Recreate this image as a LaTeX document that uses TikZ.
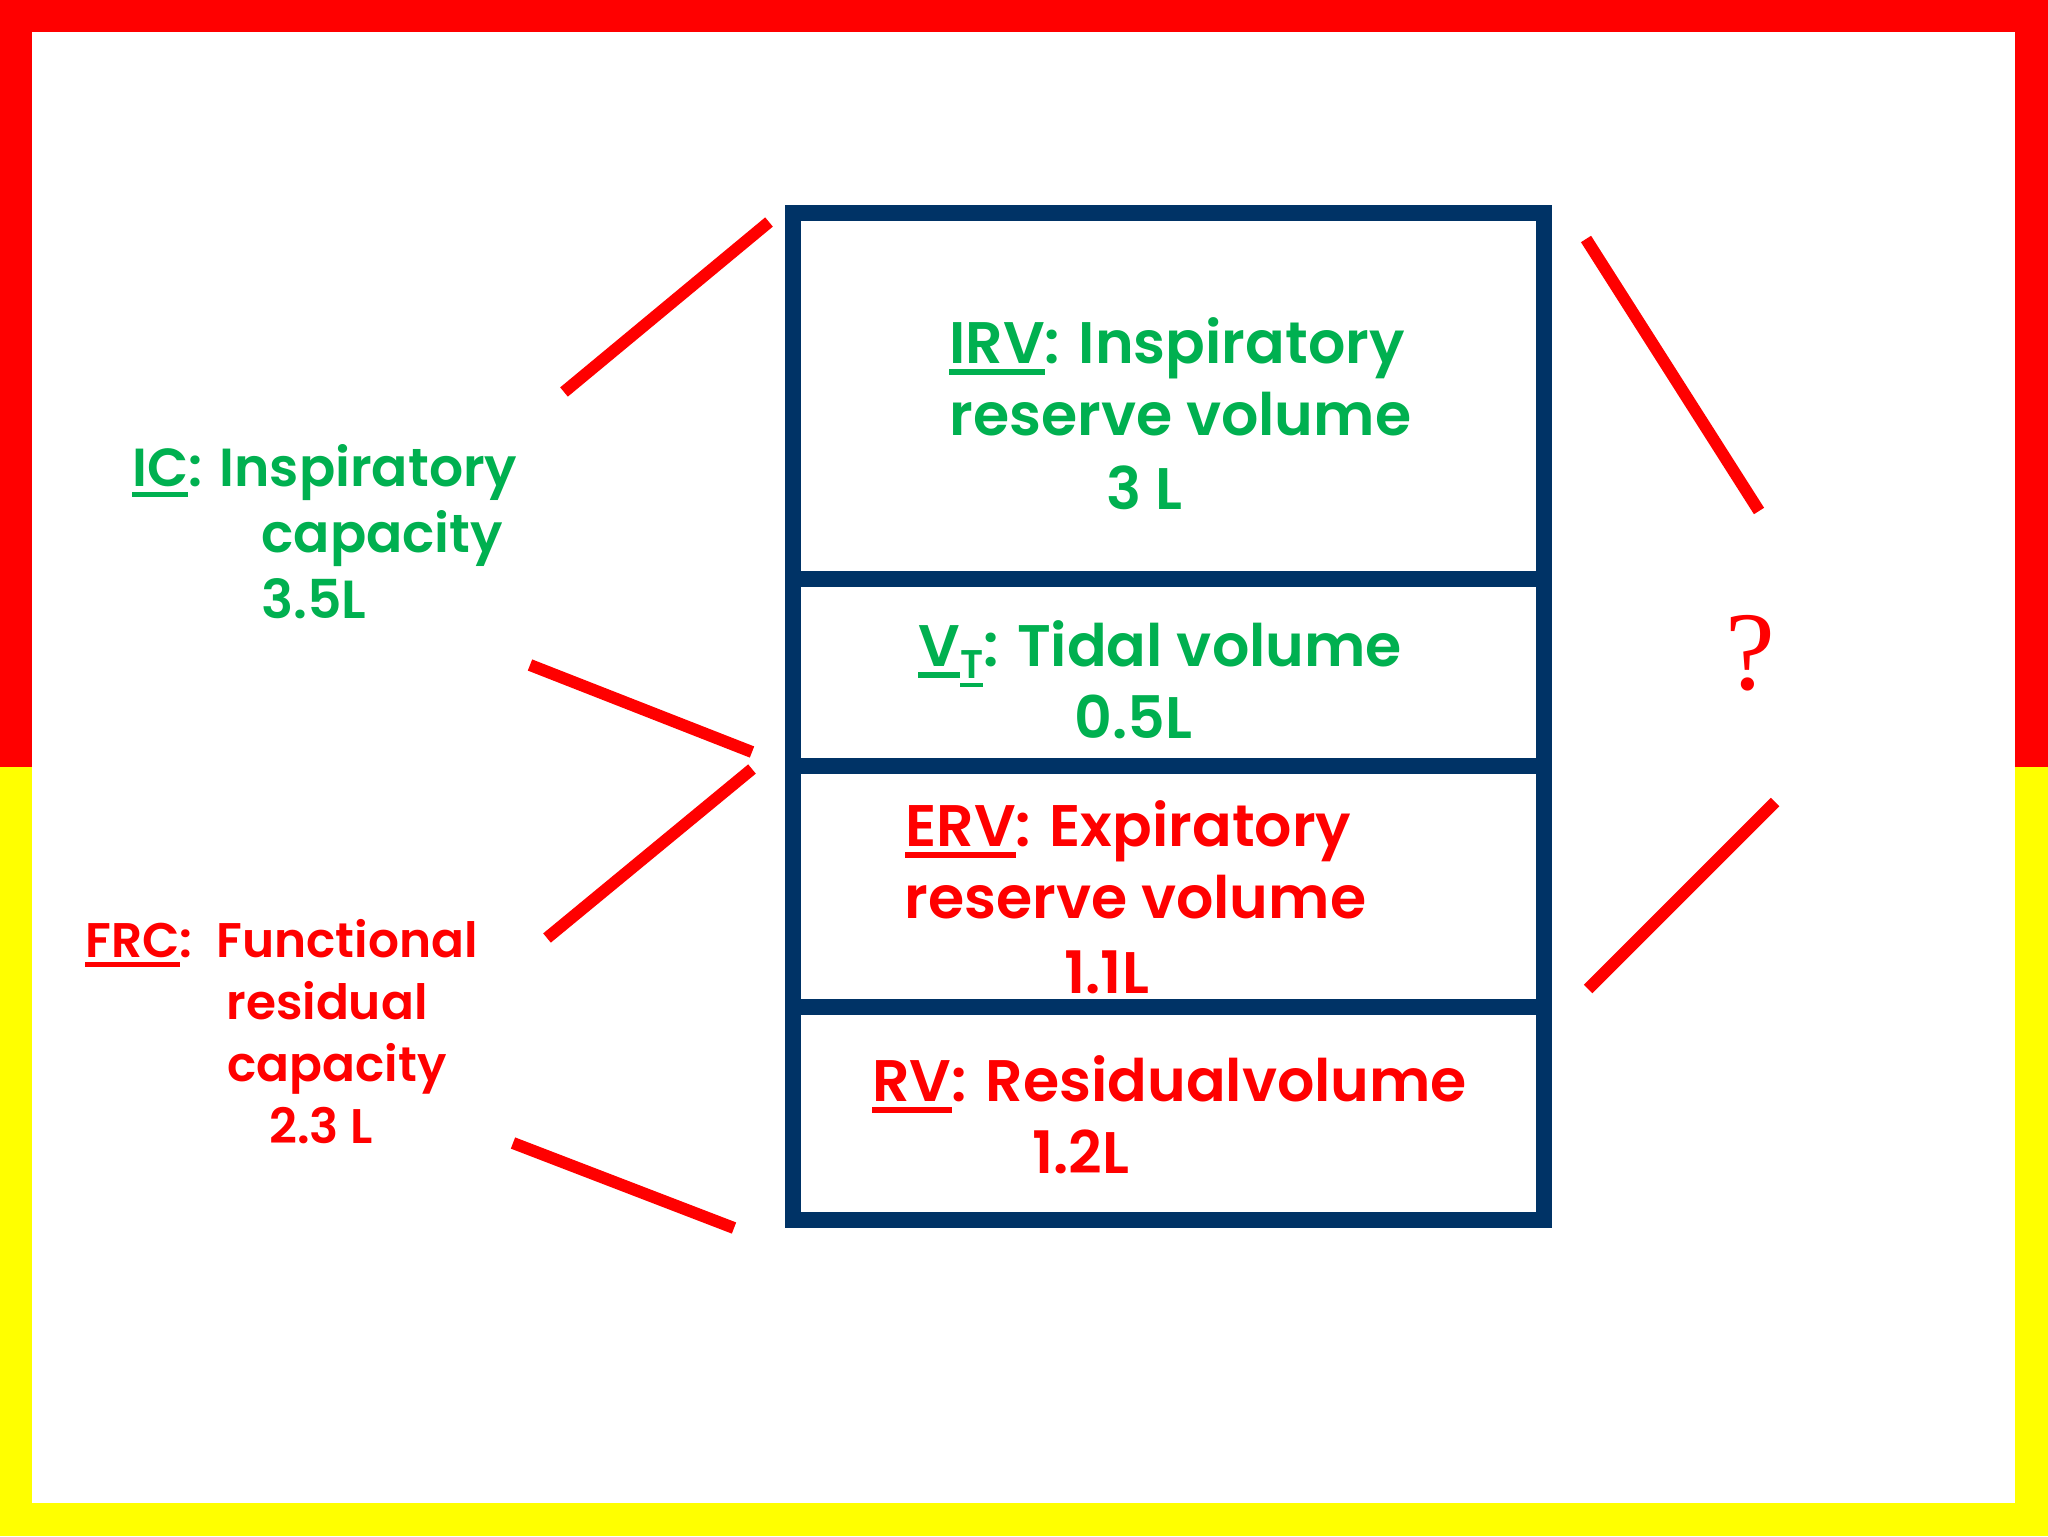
\documentclass[tikz,border=0pt]{standalone}
\usepackage{fontspec}
\setmainfont{Poppins}[BoldFont={Poppins SemiBold}]
\newfontfamily\qfont{Liberation Serif}
\definecolor{pgreen}{RGB}{0,176,80}
\definecolor{pred}{RGB}{255,0,0}
\definecolor{pnavy}{RGB}{0,51,102}
\definecolor{pyellow}{RGB}{255,255,0}
\newcommand\ulx[1]{\setbox0=\hbox{#1}\rlap{\rule[-0.2em]{\wd0}{0.09em}}\box0}
\tikzset{
  txt/.style={anchor=base west,inner sep=0pt,font=\bfseries\fontsize{29.3}{35}\selectfont},
  gtxt/.style={txt,text=pgreen},
  rtxt/.style={txt,text=pred},
  sidegtxt/.style={gtxt,font=\bfseries\fontsize{26.8}{32}\selectfont},
  sidertxt/.style={rtxt,font=\bfseries\fontsize{24.3}{30}\selectfont},
  bracket/.style={draw=pred,line width=6pt,line cap=butt},
  boxline/.style={draw=pnavy,line width=8pt},
}
\begin{document}
\begin{tikzpicture}[x=0.5pt,y=-0.5pt]
\useasboundingbox (0,0) rectangle (2048,1536);
% background frame
\fill[pred] (0,0) rectangle (2048,767);
\fill[pyellow] (0,767) rectangle (2048,1536);
\fill[white] (32,32) rectangle (2015,1503);
% central box
\draw[boxline] (793,213) rectangle (1544,1220);
\coordinate (d1l) at (793,579); \coordinate (d1r) at (1544,579);
\coordinate (d2l) at (793,766); \coordinate (d2r) at (1544,766);
\coordinate (d3l) at (793,1007); \coordinate (d3r) at (1544,1007);
\draw[boxline] (d1l) -- (d1r);
\draw[boxline] (d2l) -- (d2r);
\draw[boxline] (d3l) -- (d3r);
% IRV
\node[gtxt] (irv1) at (949,363) {\ulx{IRV}: Inspiratory};
\node[gtxt] (irv2) at (949,435) {reserve volume};
\node[gtxt] (irv3) at (1106,509) {3 L};
% VT
\node[gtxt] (vt1) at (918,666) {\ulx{V}\raisebox{-0.22em}{\fontsize{20}{20}\selectfont\ulx{T}}: Tidal volume};
\node[gtxt] (vt2) at (1074,738) {0.5L};
% ERV
\node[rtxt] (erv1) at (905,846) {\ulx{ERV}: Expiratory};
\node[rtxt] (erv2) at (904,918) {reserve volume};
\node[rtxt] (erv3) at (1064,993) {1.1L};
% RV
\node[rtxt] (rv1) at (872,1101) {\ulx{RV}: Residualvolume};
\node[rtxt] (rv2) at (1032,1173) {1.2L};
% IC
\node[sidegtxt] (ic1) at (132,486) {\ulx{IC}: Inspiratory};
\node[sidegtxt] (ic2) at (261,552) {capacity};
\node[sidegtxt] (ic3) at (261,618) {3.5L};
% FRC
\node[sidertxt] (frc1) at (85,957) {\ulx{FRC}:\hspace{0.5em}Functional};
\node[sidertxt] (frc2) at (226,1019) {residual};
\node[sidertxt] (frc3) at (227,1081) {capacity};
\node[sidertxt] (frc4) at (269,1143) {2.3 L};
% question mark
\node[inner sep=0pt,text=pred,font=\qfont\fontsize{56}{60}\selectfont] (q) at (1750,653) {?};
% brackets
\coordinate (a1) at (564,392); \coordinate (a2) at (769,222);
\coordinate (b1) at (530,665); \coordinate (b2) at (752,752);
\coordinate (c1) at (547,938); \coordinate (c2) at (752,769);
\coordinate (e1) at (513,1143); \coordinate (e2) at (734,1228);
\coordinate (f1) at (1586,239); \coordinate (f2) at (1759,511);
\coordinate (g1) at (1588,989); \coordinate (g2) at (1775,802);
\draw[bracket] (a1) -- (a2);
\draw[bracket] (b1) -- (b2);
\draw[bracket] (c1) -- (c2);
\draw[bracket] (e1) -- (e2);
\draw[bracket] (f1) -- (f2);
\draw[bracket] (g1) -- (g2);
\end{tikzpicture}
\end{document}
